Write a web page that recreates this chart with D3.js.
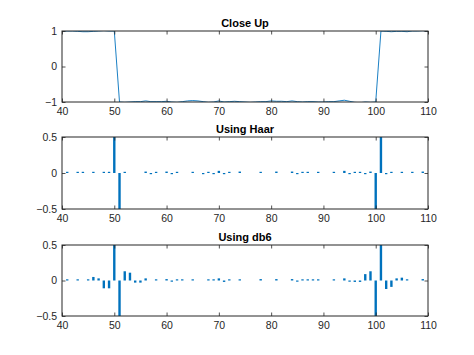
<!DOCTYPE html>
<html><head><meta charset="utf-8">
<script src="https://cdn.jsdelivr.net/npm/d3@7"></script>
<style>
body{margin:0;background:#fff;}
text{font-family:"Liberation Sans",Arial,Helvetica,sans-serif;}
</style></head>
<body><svg id="c" width="474" height="355"></svg>
<script>
// ---- data ----
const titles = ["Close Up", "Using Haar", "Using db6"];
const xTicks = [40, 50, 60, 70, 80, 90, 100, 110];
const yTicksTop = [-1, 0, 1];
const yTicksDetail = [-0.5, 0, 0.5];

const signalX = d3.range(40, 111);
const signalY = [
  1.00, 1.00, 1.00, 0.99, 0.98, 0.98, 0.99, 1.00, 1.01, 1.00, 1.00,
  -1.00, -1.01, -1.00, -0.99, -0.99, -0.97, -0.99, -0.99, -0.99, -0.98,
  -1.00, -1.01, -0.99, -0.97, -0.96, -0.97, -0.99, -1.01, -1.00, -0.97,
  -1.00, -0.99, -0.98, -0.99, -1.00, -1.01, -1.00, -0.99, -0.99, -0.97,
  -0.98, -0.98, -0.99, -0.97, -0.99, -1.00, -0.99, -0.99, -1.00, -1.00,
  -0.99, -0.99, -0.97, -0.95, -0.98, -1.01, -1.02, -1.00, -1.01, -1.00,
  1.00, 0.99, 0.98, 0.99, 0.99, 0.98, 1.00, 1.00, 1.01, 0.99
];

const haarX = [41,43,44,46,48,49,50,51,52,56,57,58,60,61,62,65,67,68,69,70,71,72,74,78,81,84,85,86,87,89,92,94,95,96,97,98,99,100,101,102,103,105,107,109];
const haarY = [0.01,0.01,0.01,0.01,0.01,0.01,0.5,-0.5,0.01,0.02,-0.01,0.01,0.02,-0.01,0.01,0.01,-0.01,0.01,-0.01,0.03,-0.01,0.01,0.02,0.01,0.02,0.02,-0.01,0.01,0.01,0.01,0.01,0.03,-0.01,0.01,0.01,-0.01,0.02,-0.5,0.5,-0.01,0.01,0.01,0.01,0.02];

const db6X = [41,43,45,46,47,48,49,50,51,52,53,54,55,56,58,60,61,62,63,65,68,69,70,71,72,74,78,81,84,85,86,87,88,89,92,94,95,96,97,98,99,100,101,102,103,104,105,106,109];
const db6Y = [0.01,0.01,0.01,0.05,0.03,-0.11,-0.11,0.5,-0.5,0.13,0.11,-0.03,-0.03,0.03,0.01,0.02,-0.01,0.01,0.01,0.01,0.01,0.01,0.03,-0.02,0.01,0.01,0.02,0.02,0.02,-0.01,0.01,0.01,0.01,0.01,0.01,0.03,-0.01,-0.02,-0.02,0.09,0.13,-0.5,0.5,-0.12,-0.09,0.03,0.04,0.01,0.02];

// ---- layout ----
const svg = d3.select("#c");
const L = 62, R = 428;
const panels = [{top:31, bot:102},{top:137, bot:209},{top:245, bot:316}];
const blue = "#0072BD", axc = "#262626";

function drawAxes(i, yDomain, yTicks, yFmt) {
  const p = panels[i];
  const x = d3.scaleLinear().domain([40, 110]).range([L, R]);
  const y = d3.scaleLinear().domain(yDomain).range([p.bot, p.top]);
  const g = svg.append("g");
  const clipId = "clip" + i;
  svg.append("clipPath").attr("id", clipId).append("rect")
    .attr("x", L).attr("y", p.top).attr("width", R - L).attr("height", p.bot - p.top);
  const plot = g.append("g").attr("clip-path", `url(#${clipId})`);

  const tl = 3.5;
  const styleAxis = (a) => {
    a.select(".domain").remove();
    a.selectAll("line").attr("stroke", axc).attr("stroke-width", 0.8);
    a.selectAll("text").attr("fill", axc).style("font-size", "10.5px");
  };
  g.append("g").attr("transform", `translate(0,${p.bot})`)
    .call(d3.axisBottom(x).tickValues(xTicks).tickSizeInner(-tl).tickSizeOuter(0).tickPadding(6))
    .call(styleAxis);
  g.append("g").attr("transform", `translate(0,${p.top})`)
    .call(d3.axisTop(x).tickValues(xTicks).tickSizeInner(-tl).tickSizeOuter(0).tickFormat(""))
    .call(styleAxis);
  g.append("g").attr("transform", `translate(${L},0)`)
    .call(d3.axisLeft(y).tickValues(yTicks).tickSizeInner(-tl).tickSizeOuter(0).tickPadding(5).tickFormat(yFmt))
    .call(styleAxis);
  g.append("g").attr("transform", `translate(${R},0)`)
    .call(d3.axisRight(y).tickValues(yTicks).tickSizeInner(-tl).tickSizeOuter(0).tickFormat(""))
    .call(styleAxis);

  g.append("rect").attr("x", L).attr("y", p.top).attr("width", R - L).attr("height", p.bot - p.top)
    .attr("fill", "none").attr("stroke", axc).attr("stroke-width", 1);

  g.append("text").attr("x", (L + R) / 2).attr("y", p.top - 4)
    .attr("text-anchor", "middle").attr("fill", "#000")
    .style("font-size", "11px").style("font-weight", "bold").text(titles[i]);
  return {x, y, plot};
}

{
  const {x, y, plot} = drawAxes(0, [-1, 1], yTicksTop, d3.format("d"));
  const pts = signalX.map((v, k) => [v, signalY[k]]);
  plot.append("path").datum(pts)
    .attr("fill", "none").attr("stroke", blue).attr("stroke-width", 0.9)
    .attr("d", d3.line().x(d => x(d[0])).y(d => y(d[1])));
}

function stems(i, xs, ys) {
  const {x, y, plot} = drawAxes(i, [-0.5, 0.5], yTicksDetail, d => d === 0 ? "0" : d3.format(".1f")(d));
  plot.selectAll("line.stem").data(xs.map((v, k) => [v, ys[k]])).enter().append("line")
    .attr("class", "stem")
    .attr("x1", d => x(d[0])).attr("x2", d => x(d[0]))
    .attr("y1", y(0)).attr("y2", d => {
      const dy = y(d[1]) - y(0);
      return Math.abs(dy) < 1.2 ? y(0) + (dy < 0 ? -1.2 : 1.2) : y(d[1]);
    })
    .attr("stroke", blue).attr("stroke-width", 2.4);
}
stems(1, haarX, haarY);
stems(2, db6X, db6Y);
</script></body></html>
